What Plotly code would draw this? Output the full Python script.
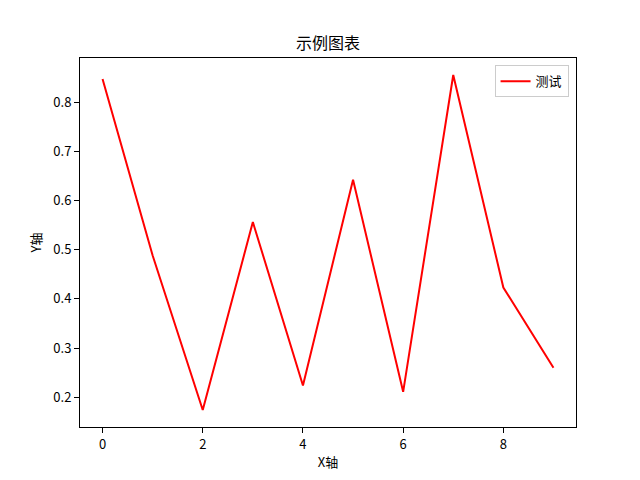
import plotly.graph_objects as go

x_vals = [0, 1, 2, 3, 4, 5, 6, 7, 8, 9]
y_vals = [0.847, 0.488, 0.174, 0.556, 0.224, 0.642, 0.211, 0.855, 0.423, 0.260]
series_name = "测试"
title_text = "示例图表"
x_title = "X轴"
y_title = "Y轴"
x_ticks = [0, 2, 4, 6, 8]
y_ticks = [0.2, 0.3, 0.4, 0.5, 0.6, 0.7, 0.8]

FONT = "Noto Sans CJK SC, DejaVu Sans, sans-serif"

fig = go.Figure()
fig.add_trace(go.Scatter(x=x_vals, y=y_vals, mode="lines", name=series_name,
                         line=dict(color="red", width=2)))

fig.update_layout(
    width=640, height=480,
    margin=dict(l=80, r=64, t=58, b=53, autoexpand=False),
    paper_bgcolor="white", plot_bgcolor="white",
    font=dict(family=FONT, size=13, color="black"),
    title=dict(text=title_text, x=0.5, xanchor="center", xref="paper",
               y=1 - 43 / 480, yanchor="middle", font=dict(size=16, family=FONT)),
    showlegend=True,
    legend=dict(x=0.985, y=0.98, xanchor="right", yanchor="top",
                bordercolor="#cccccc", borderwidth=1, bgcolor="rgba(255,255,255,0.8)",
                font=dict(size=13, family=FONT)),
)
fig.update_xaxes(range=[-0.45, 9.45], tickvals=x_ticks, ticks="outside", ticklen=5,
                 tickcolor="black", showgrid=False, zeroline=False, showline=True,
                 linecolor="black", linewidth=1, mirror=True,
                 title=dict(text=x_title, font=dict(size=13), standoff=6))
fig.update_yaxes(range=[0.1395, 0.8895], tickvals=y_ticks, ticks="outside", ticklen=5,
                 tickcolor="black", showgrid=False, zeroline=False, showline=True,
                 linecolor="black", linewidth=1, mirror=True, tickformat=".1f",
                 title=dict(text=y_title, font=dict(size=13), standoff=8))

fig.write_html("out.html", config={"displayModeBar": False},
               post_script="document.body.style.margin='0';")
